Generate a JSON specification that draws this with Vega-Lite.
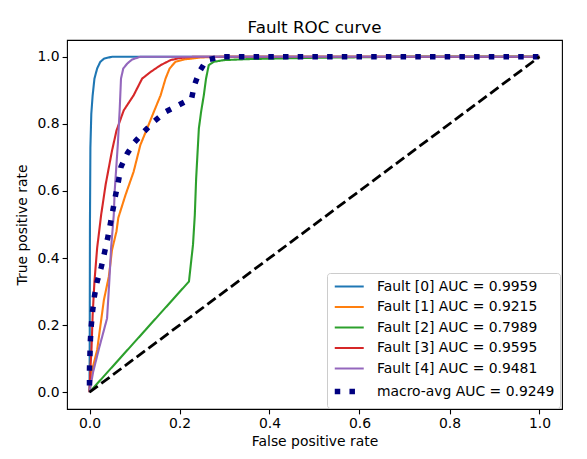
{
  "$schema": "https://vega.github.io/schema/vega-lite/v6.json",
  "description": "Fault ROC curve",
  "width": 495,
  "height": 369,
  "autosize": "none",
  "padding": {"left": 67, "top": 40, "right": 25, "bottom": 50},
  "background": "white",
  "config": {
    "font": "DejaVu Sans",
    "view": {"stroke": "black", "strokeWidth": 1.1},
    "axis": {
      "grid": false,
      "domain": false,
      "tickColor": "black",
      "tickSize": 4.9,
      "tickWidth": 1.1,
      "labelFontSize": 13.9,
      "labelColor": "black",
      "labelPadding": 3,
      "titleFontSize": 13.9,
      "titleFontWeight": "normal",
      "titleColor": "black"
    }
  },
  "title": {
    "text": "Fault ROC curve",
    "fontSize": 16.7,
    "fontWeight": "normal",
    "color": "black",
    "offset": 3
  },
  "datasets": {
    "roc": [
      {"series": "Fault [0] AUC = 0.9959", "fpr": 0, "tpr": 0},
      {"series": "Fault [0] AUC = 0.9959", "fpr": 0.0005, "tpr": 0.15},
      {"series": "Fault [0] AUC = 0.9959", "fpr": 0.001, "tpr": 0.5},
      {"series": "Fault [0] AUC = 0.9959", "fpr": 0.002, "tpr": 0.73},
      {"series": "Fault [0] AUC = 0.9959", "fpr": 0.004, "tpr": 0.83},
      {"series": "Fault [0] AUC = 0.9959", "fpr": 0.007, "tpr": 0.885},
      {"series": "Fault [0] AUC = 0.9959", "fpr": 0.011, "tpr": 0.935},
      {"series": "Fault [0] AUC = 0.9959", "fpr": 0.017, "tpr": 0.965},
      {"series": "Fault [0] AUC = 0.9959", "fpr": 0.024, "tpr": 0.985},
      {"series": "Fault [0] AUC = 0.9959", "fpr": 0.033, "tpr": 0.995},
      {"series": "Fault [0] AUC = 0.9959", "fpr": 0.05, "tpr": 1},
      {"series": "Fault [0] AUC = 0.9959", "fpr": 1, "tpr": 1},

      {"series": "Fault [1] AUC = 0.9215", "fpr": 0, "tpr": 0},
      {"series": "Fault [1] AUC = 0.9215", "fpr": 0.006, "tpr": 0.067},
      {"series": "Fault [1] AUC = 0.9215", "fpr": 0.017, "tpr": 0.126},
      {"series": "Fault [1] AUC = 0.9215", "fpr": 0.024, "tpr": 0.196},
      {"series": "Fault [1] AUC = 0.9215", "fpr": 0.032, "tpr": 0.275},
      {"series": "Fault [1] AUC = 0.9215", "fpr": 0.043, "tpr": 0.345},
      {"series": "Fault [1] AUC = 0.9215", "fpr": 0.05, "tpr": 0.424},
      {"series": "Fault [1] AUC = 0.9215", "fpr": 0.06, "tpr": 0.48},
      {"series": "Fault [1] AUC = 0.9215", "fpr": 0.064, "tpr": 0.52},
      {"series": "Fault [1] AUC = 0.9215", "fpr": 0.08, "tpr": 0.588},
      {"series": "Fault [1] AUC = 0.9215", "fpr": 0.098, "tpr": 0.657},
      {"series": "Fault [1] AUC = 0.9215", "fpr": 0.113, "tpr": 0.737},
      {"series": "Fault [1] AUC = 0.9215", "fpr": 0.128, "tpr": 0.786},
      {"series": "Fault [1] AUC = 0.9215", "fpr": 0.143, "tpr": 0.836},
      {"series": "Fault [1] AUC = 0.9215", "fpr": 0.158, "tpr": 0.885},
      {"series": "Fault [1] AUC = 0.9215", "fpr": 0.169, "tpr": 0.935},
      {"series": "Fault [1] AUC = 0.9215", "fpr": 0.178, "tpr": 0.965},
      {"series": "Fault [1] AUC = 0.9215", "fpr": 0.191, "tpr": 0.985},
      {"series": "Fault [1] AUC = 0.9215", "fpr": 0.21, "tpr": 0.992},
      {"series": "Fault [1] AUC = 0.9215", "fpr": 0.247, "tpr": 0.998},
      {"series": "Fault [1] AUC = 0.9215", "fpr": 0.3, "tpr": 1},
      {"series": "Fault [1] AUC = 0.9215", "fpr": 1, "tpr": 1},

      {"series": "Fault [2] AUC = 0.7989", "fpr": 0, "tpr": 0},
      {"series": "Fault [2] AUC = 0.7989", "fpr": 0.221, "tpr": 0.33},
      {"series": "Fault [2] AUC = 0.7989", "fpr": 0.23, "tpr": 0.44},
      {"series": "Fault [2] AUC = 0.7989", "fpr": 0.234, "tpr": 0.528},
      {"series": "Fault [2] AUC = 0.7989", "fpr": 0.237, "tpr": 0.637},
      {"series": "Fault [2] AUC = 0.7989", "fpr": 0.243, "tpr": 0.786},
      {"series": "Fault [2] AUC = 0.7989", "fpr": 0.248, "tpr": 0.836},
      {"series": "Fault [2] AUC = 0.7989", "fpr": 0.254, "tpr": 0.885},
      {"series": "Fault [2] AUC = 0.7989", "fpr": 0.259, "tpr": 0.935},
      {"series": "Fault [2] AUC = 0.7989", "fpr": 0.265, "tpr": 0.975},
      {"series": "Fault [2] AUC = 0.7989", "fpr": 0.276, "tpr": 0.985},
      {"series": "Fault [2] AUC = 0.7989", "fpr": 0.298, "tpr": 0.99},
      {"series": "Fault [2] AUC = 0.7989", "fpr": 0.35, "tpr": 0.993},
      {"series": "Fault [2] AUC = 0.7989", "fpr": 0.5, "tpr": 0.997},
      {"series": "Fault [2] AUC = 0.7989", "fpr": 0.7, "tpr": 1},
      {"series": "Fault [2] AUC = 0.7989", "fpr": 1, "tpr": 1},

      {"series": "Fault [3] AUC = 0.9595", "fpr": 0, "tpr": 0},
      {"series": "Fault [3] AUC = 0.9595", "fpr": 0.002, "tpr": 0.07},
      {"series": "Fault [3] AUC = 0.9595", "fpr": 0.0045, "tpr": 0.13},
      {"series": "Fault [3] AUC = 0.9595", "fpr": 0.007, "tpr": 0.23},
      {"series": "Fault [3] AUC = 0.9595", "fpr": 0.011, "tpr": 0.33},
      {"series": "Fault [3] AUC = 0.9595", "fpr": 0.017, "tpr": 0.43},
      {"series": "Fault [3] AUC = 0.9595", "fpr": 0.026, "tpr": 0.53},
      {"series": "Fault [3] AUC = 0.9595", "fpr": 0.036, "tpr": 0.62},
      {"series": "Fault [3] AUC = 0.9595", "fpr": 0.05, "tpr": 0.72},
      {"series": "Fault [3] AUC = 0.9595", "fpr": 0.06, "tpr": 0.78},
      {"series": "Fault [3] AUC = 0.9595", "fpr": 0.076, "tpr": 0.84},
      {"series": "Fault [3] AUC = 0.9595", "fpr": 0.098, "tpr": 0.885},
      {"series": "Fault [3] AUC = 0.9595", "fpr": 0.117, "tpr": 0.935},
      {"series": "Fault [3] AUC = 0.9595", "fpr": 0.136, "tpr": 0.955},
      {"series": "Fault [3] AUC = 0.9595", "fpr": 0.158, "tpr": 0.975},
      {"series": "Fault [3] AUC = 0.9595", "fpr": 0.18, "tpr": 0.99},
      {"series": "Fault [3] AUC = 0.9595", "fpr": 0.2, "tpr": 0.996},
      {"series": "Fault [3] AUC = 0.9595", "fpr": 0.23, "tpr": 1},
      {"series": "Fault [3] AUC = 0.9595", "fpr": 1, "tpr": 1},

      {"series": "Fault [4] AUC = 0.9481", "fpr": 0, "tpr": 0},
      {"series": "Fault [4] AUC = 0.9481", "fpr": 0.008, "tpr": 0.06},
      {"series": "Fault [4] AUC = 0.9481", "fpr": 0.021, "tpr": 0.13},
      {"series": "Fault [4] AUC = 0.9481", "fpr": 0.039, "tpr": 0.22},
      {"series": "Fault [4] AUC = 0.9481", "fpr": 0.044, "tpr": 0.33},
      {"series": "Fault [4] AUC = 0.9481", "fpr": 0.048, "tpr": 0.43},
      {"series": "Fault [4] AUC = 0.9481", "fpr": 0.054, "tpr": 0.53},
      {"series": "Fault [4] AUC = 0.9481", "fpr": 0.056, "tpr": 0.6},
      {"series": "Fault [4] AUC = 0.9481", "fpr": 0.063, "tpr": 0.74},
      {"series": "Fault [4] AUC = 0.9481", "fpr": 0.067, "tpr": 0.84},
      {"series": "Fault [4] AUC = 0.9481", "fpr": 0.07, "tpr": 0.935},
      {"series": "Fault [4] AUC = 0.9481", "fpr": 0.075, "tpr": 0.965},
      {"series": "Fault [4] AUC = 0.9481", "fpr": 0.084, "tpr": 0.98},
      {"series": "Fault [4] AUC = 0.9481", "fpr": 0.095, "tpr": 0.992},
      {"series": "Fault [4] AUC = 0.9481", "fpr": 0.113, "tpr": 1},
      {"series": "Fault [4] AUC = 0.9481", "fpr": 1, "tpr": 1},

      {"series": "macro-avg AUC = 0.9249", "fpr": 0, "tpr": 0.02},
      {"series": "macro-avg AUC = 0.9249", "fpr": 0, "tpr": 0.07},
      {"series": "macro-avg AUC = 0.9249", "fpr": 0.001, "tpr": 0.112},
      {"series": "macro-avg AUC = 0.9249", "fpr": 0.002, "tpr": 0.156},
      {"series": "macro-avg AUC = 0.9249", "fpr": 0.004, "tpr": 0.2},
      {"series": "macro-avg AUC = 0.9249", "fpr": 0.007, "tpr": 0.243},
      {"series": "macro-avg AUC = 0.9249", "fpr": 0.011, "tpr": 0.287},
      {"series": "macro-avg AUC = 0.9249", "fpr": 0.017, "tpr": 0.33},
      {"series": "macro-avg AUC = 0.9249", "fpr": 0.026, "tpr": 0.372},
      {"series": "macro-avg AUC = 0.9249", "fpr": 0.033, "tpr": 0.414},
      {"series": "macro-avg AUC = 0.9249", "fpr": 0.04, "tpr": 0.457},
      {"series": "macro-avg AUC = 0.9249", "fpr": 0.046, "tpr": 0.5},
      {"series": "macro-avg AUC = 0.9249", "fpr": 0.052, "tpr": 0.543},
      {"series": "macro-avg AUC = 0.9249", "fpr": 0.058, "tpr": 0.588},
      {"series": "macro-avg AUC = 0.9249", "fpr": 0.064, "tpr": 0.627},
      {"series": "macro-avg AUC = 0.9249", "fpr": 0.07, "tpr": 0.672},
      {"series": "macro-avg AUC = 0.9249", "fpr": 0.084, "tpr": 0.712},
      {"series": "macro-avg AUC = 0.9249", "fpr": 0.1, "tpr": 0.745},
      {"series": "macro-avg AUC = 0.9249", "fpr": 0.122, "tpr": 0.778},
      {"series": "macro-avg AUC = 0.9249", "fpr": 0.144, "tpr": 0.808},
      {"series": "macro-avg AUC = 0.9249", "fpr": 0.169, "tpr": 0.836},
      {"series": "macro-avg AUC = 0.9249", "fpr": 0.198, "tpr": 0.856},
      {"series": "macro-avg AUC = 0.9249", "fpr": 0.227, "tpr": 0.876},
      {"series": "macro-avg AUC = 0.9249", "fpr": 0.233, "tpr": 0.915},
      {"series": "macro-avg AUC = 0.9249", "fpr": 0.244, "tpr": 0.955},
      {"series": "macro-avg AUC = 0.9249", "fpr": 0.26, "tpr": 0.99},
      {"series": "macro-avg AUC = 0.9249", "fpr": 0.293, "tpr": 1},
      {"series": "macro-avg AUC = 0.9249", "fpr": 1, "tpr": 1}
    ],
    "chance": [
      {"fpr": 0, "tpr": 0},
      {"fpr": 1, "tpr": 1}
    ]
  },
  "layer": [
    {
      "data": {"name": "roc"},
      "mark": {"type": "line", "strokeCap": "butt", "clip": true},
      "encoding": {
        "x": {
          "field": "fpr",
          "type": "quantitative",
          "title": "False positive rate",
          "scale": {"domain": [-0.05, 1.05], "nice": false, "zero": false},
          "axis": {"values": [0, 0.2, 0.4, 0.6, 0.8, 1], "format": ".1f", "titlePadding": 4}
        },
        "y": {
          "field": "tpr",
          "type": "quantitative",
          "title": "True positive rate",
          "scale": {"domain": [-0.05, 1.05], "nice": false, "zero": false},
          "axis": {"values": [0, 0.2, 0.4, 0.6, 0.8, 1], "format": ".1f", "titlePadding": 8}
        },
        "order": {"value": null},
        "color": {
          "field": "series",
          "type": "nominal",
          "scale": {
            "domain": ["Fault [0] AUC = 0.9959", "Fault [1] AUC = 0.9215", "Fault [2] AUC = 0.7989", "Fault [3] AUC = 0.9595", "Fault [4] AUC = 0.9481", "macro-avg AUC = 0.9249"],
            "range": ["#1f77b4", "#ff7f0e", "#2ca02c", "#d62728", "#9467bd", "#000080"]
          },
          "legend": {
            "title": null,
            "orient": "none",
            "legendX": 260,
            "legendY": 233,
            "symbolType": "M-1,0H3",
            "symbolSize": 210,
            "labelFontSize": 13.9,
            "labelColor": "black",
            "labelOffset": 25,
            "labelLimit": 300,
            "fillColor": "rgba(255,255,255,0.8)",
            "strokeColor": "#cccccc",
            "cornerRadius": 3,
            "padding": 5,
            "rowPadding": 4.5
          }
        },
        "strokeDash": {
          "field": "series",
          "type": "nominal",
          "scale": {
            "domain": ["Fault [0] AUC = 0.9959", "Fault [1] AUC = 0.9215", "Fault [2] AUC = 0.7989", "Fault [3] AUC = 0.9595", "Fault [4] AUC = 0.9481", "macro-avg AUC = 0.9249"],
            "range": [[1, 0], [1, 0], [1, 0], [1, 0], [1, 0], [5.5, 9.2]]
          }
        },
        "strokeWidth": {
          "field": "series",
          "type": "nominal",
          "scale": {
            "type": "ordinal",
            "domain": ["Fault [0] AUC = 0.9959", "Fault [1] AUC = 0.9215", "Fault [2] AUC = 0.7989", "Fault [3] AUC = 0.9595", "Fault [4] AUC = 0.9481", "macro-avg AUC = 0.9249"],
            "range": [2.1, 2.1, 2.1, 2.1, 2.1, 5.5]
          }
        }
      }
    },
    {
      "data": {"name": "chance"},
      "mark": {"type": "line", "color": "black", "strokeWidth": 2.8, "strokeDash": [10.3, 4.4], "strokeCap": "butt"},
      "encoding": {
        "x": {"field": "fpr", "type": "quantitative"},
        "y": {"field": "tpr", "type": "quantitative"}
      }
    }
  ]
}
